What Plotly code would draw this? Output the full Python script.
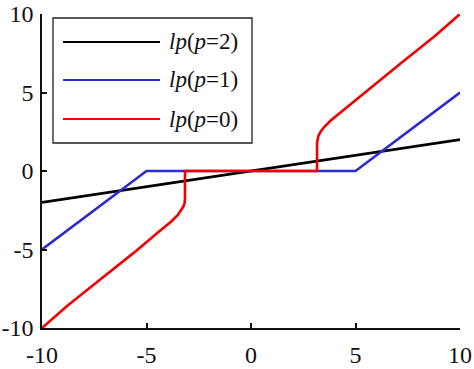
import plotly.graph_objects as go

# ---- data ----
tick_vals = [-10, -5, 0, 5, 10]
tick_text = ["-10", "-5", "0", "5", "10"]

names = ["<i>lp</i>(<i>p</i>=2)", "<i>lp</i>(<i>p</i>=1)", "<i>lp</i>(<i>p</i>=0)"]
colors = ["#000000", "#2b2bd0", "#f00000"]

p2_x = [-10, 10]
p2_y = [-2.0, 2.0]

p1_x = [-10, -5, 5, 10]
p1_y = [-5.0, 0.0, 0.0, 5.0]

p0_x = [-10, -8.8, -7.2, -5.6, -4.4, -3.8, -3.5, -3.33, -3.23, -3.18, -3.16, -3.16,
        3.16, 3.16, 3.18, 3.23, 3.33, 3.5, 3.8, 4.4, 5.6, 7.2, 8.8, 10]
p0_y = [-10, -8.6, -6.9, -5.2, -3.85, -3.2, -2.8, -2.5, -2.25, -2.05, -1.8, 0,
        0, 1.8, 2.05, 2.25, 2.5, 2.8, 3.2, 3.85, 5.2, 6.9, 8.6, 10]

series = [(p2_x, p2_y), (p1_x, p1_y), (p0_x, p0_y)]

FONT = "Liberation Serif"

fig = go.Figure()
for (xs, ys), nm, c in zip(series, names, colors):
    fig.add_trace(go.Scatter(x=xs, y=ys, mode="lines", name=nm,
                             line=dict(color=c, width=2.6), showlegend=False))

axis_common = dict(
    showline=True, linecolor="#111111", linewidth=1.5,
    ticks="inside", ticklen=5, tickwidth=1.5, tickcolor="#111111",
    showgrid=False, zeroline=False, mirror=False, automargin=False,
    tickvals=tick_vals, ticktext=tick_text,
    tickfont=dict(family=FONT, size=24, color="#111111"),
)
fig.update_xaxes(range=[-10, 10], ticklabelstandoff=4, **axis_common)
fig.update_yaxes(range=[-10, 10], ticklabelstandoff=2, **axis_common)

# ---- manual legend (paper coords) ----
W, H = 474, 369
ml, mr, mt, mb = 42, 14, 14, 41
pw, ph = W - ml - mr, H - mt - mb

def px(x):
    return (x - ml) / pw

def py(y):
    return 1 - (y - mt) / ph

shapes = [dict(type="rect", xref="paper", yref="paper",
               x0=px(53), x1=px(252), y0=py(143), y1=py(18),
               line=dict(color="#222222", width=1.3), fillcolor="white", layer="above")]
annotations = []
for i, (nm, c) in enumerate(zip(names, colors)):
    yy = [42, 80, 119][i]
    shapes.append(dict(type="line", xref="paper", yref="paper",
                       x0=px(63), x1=px(160), y0=py(yy), y1=py(yy),
                       line=dict(color=c, width=2), layer="above"))
    annotations.append(dict(xref="paper", yref="paper", x=px(167), y=py(yy),
                            text=nm, showarrow=False, xanchor="left", yanchor="middle",
                            font=dict(family=FONT, size=23, color="#111111")))

fig.update_layout(
    width=W, height=H,
    margin=dict(l=ml, r=mr, t=mt, b=mb, pad=0),
    plot_bgcolor="white", paper_bgcolor="white",
    shapes=shapes, annotations=annotations, showlegend=False,
)

fig.write_html(
    "out.html",
    config={"displayModeBar": False},
    post_script="document.body.style.margin='0';document.body.style.overflow='hidden';",
)
